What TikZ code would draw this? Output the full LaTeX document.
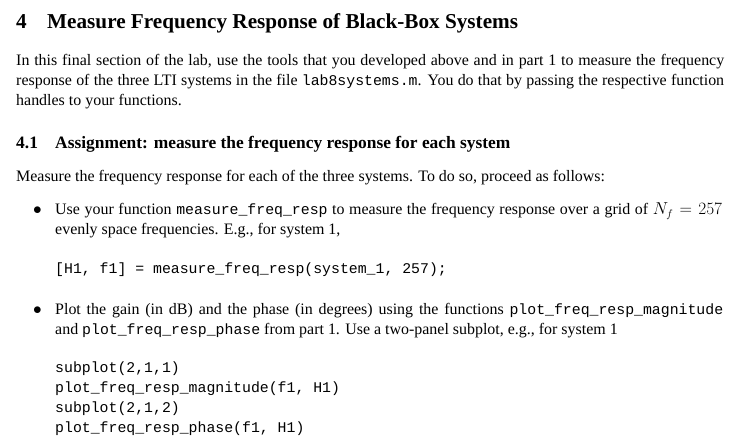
\documentclass[tikz,border=0pt]{standalone}
\usepackage{fontspec}
\setmainfont{Liberation Serif}
\setmonofont{Liberation Mono}[Scale=0.93]
\begin{document}
\begin{tikzpicture}[x=1pt,y=-1pt,
  txt/.style={anchor=base west,inner sep=0pt,font=\fontsize{15.95}{18}\selectfont},
  code/.style={anchor=base west,inner sep=0pt,font=\fontsize{15.95}{18}\ttfamily},
  hd/.style={anchor=base west,inner sep=0pt,font=\fontsize{21.2}{24}\bfseries},
  shd/.style={anchor=base west,inner sep=0pt,font=\fontsize{17.4}{20}\bfseries}]
\useasboundingbox (0,0) rectangle (741,446);
\node[hd] (h1) at (16,29) {4};
\node[hd] (h1t) at (47,29) {Measure Frequency Response of Black-Box Systems};
\node[txt] (p1) at (16,66) {\hbox to 708pt{In this final section of the lab, use the tools that you developed above and in part 1 to measure the frequency}};
\node[txt] (p2) at (16,86) {\hbox to 708pt{response of the three LTI systems in the file \texttt{lab8systems.m}. You do that by passing the respective function}};
\node[txt] (p3) at (16,106) {handles to your functions.};
\node[shd] (h2) at (16,149) {4.1};
\node[shd] (h2t) at (55,149) {Assignment: measure the frequency response for each system};
\node[txt] (m) at (16,182) {Measure the frequency response for each of the three systems. To do so, proceed as follows:};
\node[txt] (b1) at (33,215) {$\bullet$};
\node[txt] (b1a) at (55,215) {\hbox to 667pt{Use your function \texttt{measure\_freq\_resp} to measure the frequency response over a grid of $N_f=257$}};
\node[txt] (b1b) at (55,235) {evenly space frequencies. E.g., for system 1,};
\node[code] (c1) at (55,273) {[H1, f1] = measure\_freq\_resp(system\_1, 257);};
\node[txt] (b2) at (33,314) {$\bullet$};
\node[txt] (b2a) at (55,314) {\hbox to 668pt{Plot the gain (in dB) and the phase (in degrees) using the functions \texttt{plot\_freq\_resp\_magnitude}}};
\node[txt] (b2b) at (55,334) {and \texttt{plot\_freq\_resp\_phase} from part 1. Use a two-panel subplot, e.g., for system 1};
\node[code] (c2) at (55,372) {subplot(2,1,1)};
\node[code] (c3) at (55,392) {plot\_freq\_resp\_magnitude(f1, H1)};
\node[code] (c4) at (55,412) {subplot(2,1,2)};
\node[code] (c5) at (55,432) {plot\_freq\_resp\_phase(f1, H1)};
\end{tikzpicture}
\end{document}
